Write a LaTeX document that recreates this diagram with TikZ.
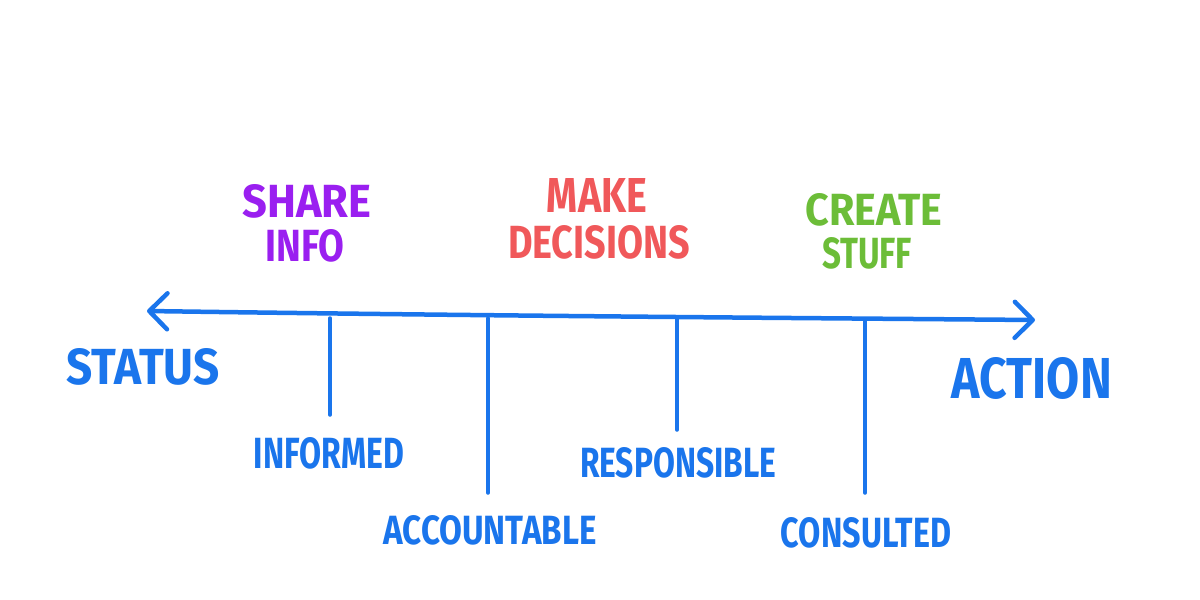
\documentclass[tikz,border=0pt]{standalone}
\usepackage{fontspec}
\setmainfont{Fira Sans}
\usepackage{graphicx}
\usetikzlibrary{arrows.meta}
\definecolor{cblue}{HTML}{1A75EC}
\definecolor{cpurple}{HTML}{9A1FF0}
\definecolor{cred}{HTML}{F0585A}
\definecolor{cgreen}{HTML}{6CBD38}
\newcommand{\fitwh}[3]{\resizebox{#1}{#2}{\bfseries #3}}
\begin{document}
\begin{tikzpicture}[x=1pt,y=-1pt,
  lbl/.style={inner sep=0pt, text=cblue},
  axis/.style={draw=cblue, line width=4.5pt, line cap=round, line join=round},
  tick/.style={draw=cblue, line width=3.5pt, line cap=round},
  head/.style={inner sep=0pt}]
\useasboundingbox[fill=white] (0,0) rectangle (1200,600);
% axis
\coordinate (L) at (147,311);
\coordinate (R) at (1035,320);
\draw[axis, {Straight Barb[length=18pt,width=36pt,line width=4.5pt,round]}-{Straight Barb[length=18pt,width=36pt,line width=4.5pt,round]}] (L) .. controls (500,316) and (800,318) .. (R);
% ticks
\coordinate (t1) at (330,318); \coordinate (b1) at (330,415);
\coordinate (t2) at (488,318); \coordinate (b2) at (488,493);
\coordinate (t3) at (677,318); \coordinate (b3) at (677,430);
\coordinate (t4) at (865,320); \coordinate (b4) at (865,493);
\draw[tick] (t1) -- (b1);
\draw[tick] (t2) -- (b2);
\draw[tick] (t3) -- (b3);
\draw[tick] (t4) -- (b4);
% end labels
\node[lbl] (status) at (143,367) {\fitwh{153pt}{36pt}{STATUS}};
\node[lbl] (action) at (1032,378) {\fitwh{160pt}{41pt}{ACTION}};
% role labels
\node[lbl] (informed) at (329,453) {\fitwh{150pt}{31pt}{INFORMED}};
\node[lbl] (accountable) at (490,530) {\fitwh{213pt}{29pt}{ACCOUNTABLE}};
\node[lbl] (responsible) at (678,463) {\fitwh{196pt}{30pt}{RESPONSIBLE}};
\node[lbl] (consulted) at (866,533) {\fitwh{170pt}{30pt}{CONSULTED}};
% headings
\node[head, text=cpurple] (share) at (307,201) {\fitwh{129pt}{33pt}{SHARE}};
\node[head, text=cpurple] (info) at (305,246) {\fitwh{79pt}{32pt}{INFO}};
\node[head, text=cred] (make) at (597,195) {\fitwh{100pt}{34pt}{MAKE}};
\node[head, text=cred] (decisions) at (599,242) {\fitwh{182pt}{33pt}{DECISIONS}};
\node[head, text=cgreen] (create) at (874,210) {\fitwh{137pt}{32pt}{CREATE}};
\node[head, text=cgreen] (stuff) at (867,253) {\fitwh{90pt}{31pt}{STUFF}};
\end{tikzpicture}
\end{document}
